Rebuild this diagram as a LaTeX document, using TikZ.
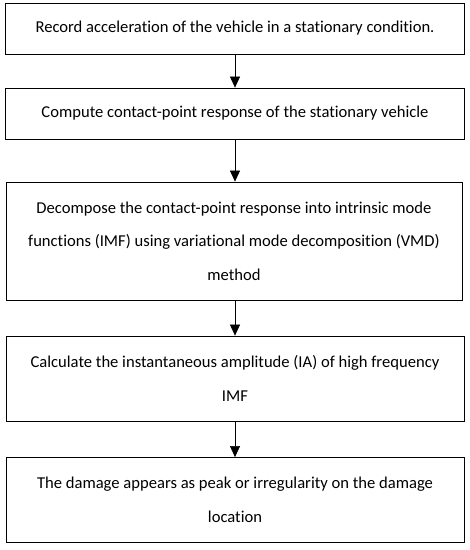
\documentclass[tikz,border=0pt]{standalone}
\usepackage{fontspec}
\setmainfont[Ligatures=NoCommon]{Carlito}
\usetikzlibrary{arrows.meta}

\tikzset{
    stepbox/.style={draw, thick, rectangle, minimum width=459pt, align=center,
        font=\fontsize{16.6pt}{33.5pt}\selectfont},
    flow/.style={-{Triangle[width=10pt, length=11pt]}, semithick}
}

\begin{document}
\begin{tikzpicture}[x=1pt, y=-1pt]
        \useasboundingbox (0,0) rectangle (470,550);

        % Steps from top to bottom
        \node[stepbox, minimum height=51pt] (rec) at (235, 28.5) {Record acceleration of the vehicle in a stationary condition.};
        \node[stepbox, minimum height=51pt] (cp) at (235, 113.5) {Compute contact-point response of the stationary vehicle};
        \node[stepbox, minimum height=118pt, minimum width=456pt] (vmd) at (234, 241) {Decompose the contact-point response into intrinsic mode\\ functions (IMF) using variational mode decomposition (VMD)\\ method};
        \node[stepbox, minimum height=85pt, minimum width=458pt] (ia) at (235, 378.5) {Calculate the instantaneous amplitude (IA) of high frequency\\ IMF};
        \node[stepbox, minimum height=85pt, minimum width=458pt] (dmg) at (235, 500) {The damage appears as peak or irregularity on the damage\\ location};

        % Arrows
        \draw[flow] (rec) -- (cp);
        \draw[flow] (cp) -- (vmd.north -| cp.south);
        \draw[flow] (vmd.south -| cp.south) -- (ia.north -| cp.south);
        \draw[flow] (ia) -- (dmg);
    \end{tikzpicture}
\end{document}
